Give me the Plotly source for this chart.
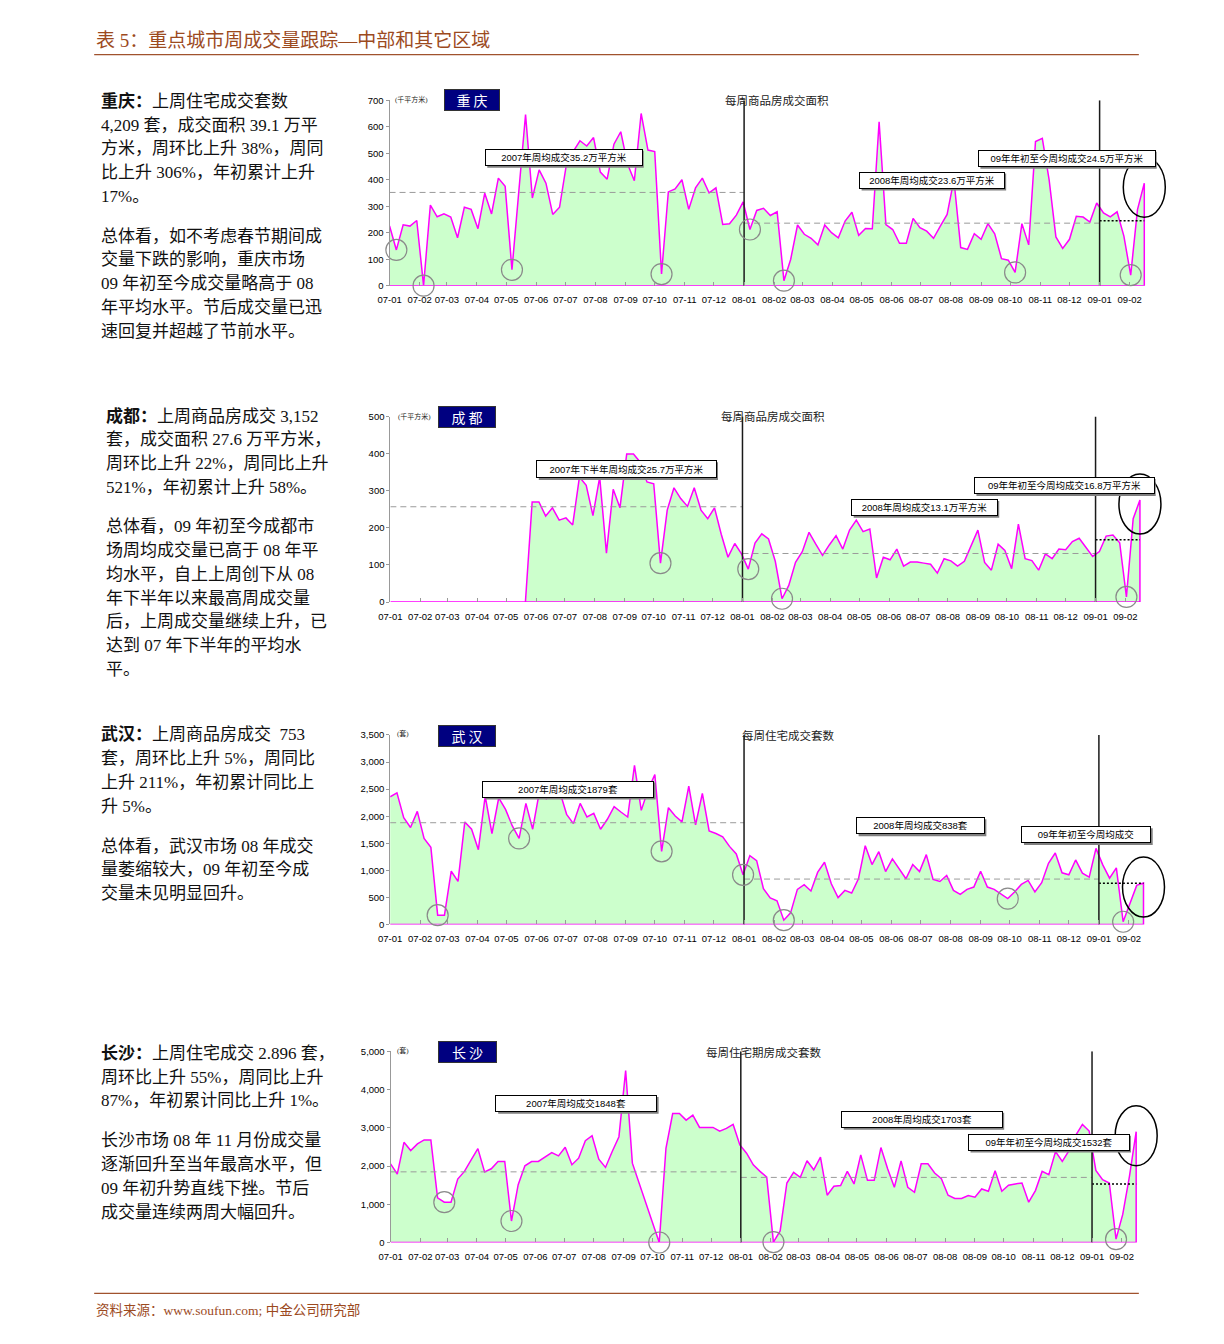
import plotly.graph_objects as go
import pandas as pd

W, H = 1224, 1344

# ---------------- data ----------------
start_date = "2007-01-01"
month_ticks = pd.date_range("2007-01-01", "2009-02-01", freq="MS")
month_labels = [d.strftime("%y-%m") for d in month_ticks]

# 重庆 weekly commodity-housing area (thousand m2)
cq_area = [225, 135, 230, 225, 246, 0, 304, 260, 271, 259,
           181, 296, 288, 215, 349, 271, 406, 375, 60, 350,
           646, 331, 437, 387, 269, 296, 456, 506, 547, 527,
           559, 429, 402, 534, 581, 459, 396, 650, 512, 506,
           44, 354, 365, 400, 288, 369, 406, 350, 369, 231,
           234, 266, 316, 212, 284, 292, 265, 279, 19, 100,
           229, 194, 179, 154, 229, 200, 181, 244, 277, 190,
           216, 215, 619, 231, 212, 160, 160, 254, 219, 206,
           179, 225, 269, 400, 144, 137, 196, 175, 234, 196,
           102, 96, 50, 234, 154, 544, 556, 400, 184, 141,
           175, 262, 259, 240, 312, 275, 260, 279, 187, 40,
           287, 387]

# 成都 weekly commodity-housing area (thousand m2)
cd_area = [0] * 21 + [
    270, 270, 232, 254, 221, 227, 208, 337, 315, 233,
    337, 132, 304, 254, 399, 399, 377, 324, 319, 105,
    248, 308, 279, 258, 308, 248, 225, 254, 183, 121,
    158, 130, 89, 159, 184,
    170, 110, 9, 45, 107, 136, 188, 156, 126, 154,
    179, 143, 194, 221, 190, 197, 65, 121, 114, 143,
    97, 108, 108, 105, 102, 78, 117, 111, 97, 110,
    150, 194, 107, 86, 156, 139, 90, 210, 117, 112,
    86, 130, 117, 143, 141, 163, 172, 148, 123, 136,
    178, 181, 160, 14, 225, 275]

# 武汉 weekly residential units
wh_units = [2358, 2431, 1973, 1790, 2089, 1588, 1423, 171, 171, 983,
            794, 1894, 1759, 1381, 2370, 1680, 2340, 2126, 1820, 1588,
            2236, 1759, 2460, 2321, 2400, 2450, 2034, 1863, 2236, 1985,
            2052, 1759, 1943, 2175, 2077, 1985, 2938, 2107, 2490, 2767,
            1350, 2156, 2003, 1894, 2553, 1839, 2419, 1729, 1680, 1619,
            1442, 1301, 916, 1271, 1179, 660, 489, 435,
            79, 214, 648, 733, 617, 965, 1148, 751, 495, 629,
            580, 843, 1454, 1106, 1344, 977, 1210, 1026, 843, 1106,
            977, 1289, 831, 794, 904, 629, 556, 648, 691, 983,
            691, 648, 568, 476, 599, 739, 812, 599, 770, 1130,
            1320, 953, 916, 1191, 947, 874, 1405, 1100, 855, 1045,
            49, 400, 721, 764]

# 长沙 weekly residential pre-sale units (None = no data, line connects)
cs_units = [2059, 1791, 2621, 2405, 2578, 2682, 2682, 1168, 1055, 1055,
            1661, 1860, 2163, 2457, 1843, 1929, 2119, 2119, 562, 1514,
            2007, 2119, 2119, 2232, 2353, 2266, 2491, 2033, 2206, 2664,
            2794, 2180, 1964, 2379, 2768, 4498, 2076, None, None, None,
            0, 2465, 3374, 3374, 3201, 3330, 3010, 3010, 3010, 2915,
            2985, 3088, 2552, 2336, 2033, 1860, 1710,
            10, 303, 1557, 1834, 1704, 2137, 1903, 2232, 1237, 1471,
            1488, 1860, 1531, 2292, 1626, 1626, 2483, 1929, 1445, 2137,
            1445, 1315, 2059, 2059, 1817, 1670, 1237, 1151, 1151, 1228,
            1185, 1401, 1341, 1877, 1341, 1497, 1531, 1557, 1055, 1358,
            1860, 1773, 2379, 2119, 2400, 2800, 3088, 2915, 1886, 1644,
            1557, 87, 735, 1730, 2898]

series = [cq_area, cd_area, wh_units, cs_units]
cities = ["重 庆", "成 都", "武 汉", "长 沙"]
chart_titles = ["每周商品房成交面积", "每周商品房成交面积", "每周住宅成交套数", "每周住宅期房成交套数"]
unit_labels = ["(千平方米)", "(千平方米)", "(套)", "(套)"]
avg_2007 = [352, 257, 1879, 1848]
avg_2008 = [236, 131, 838, 1703]
avg_2009 = [245, 168, 760, 1532]
y_max = [700, 500, 3500, 5000]
y_step = [100, 100, 500, 1000]
label_2007 = ["2007年周均成交35.2万平方米", "2007年下半年周均成交25.7万平方米",
              "2007年周均成交1879套", "2007年周均成交1848套"]
label_2008 = ["2008年周均成交23.6万平方米", "2008年周均成交13.1万平方米",
              "2008年周均成交838套", "2008年周均成交1703套"]
label_2009 = ["09年年初至今周均成交24.5万平方米", "09年年初至今周均成交16.8万平方米",
              "09年年初至今周均成交", "09年年初至今周均成交1532套"]
circle_idx = [[1, 5, 18, 40, 53, 58, 92, 109],
              [40, 53, 58, 109],
              [7, 19, 40, 52, 58, 91, 108],
              [8, 18, 40, 57, 108]]

left_texts = [
    ["<b>重庆：</b>上周住宅成交套数", "4,209 套，成交面积 39.1 万平", "方米，周环比上升 38%，周同",
     "比上升 306%，年初累计上升", "17%。",
     "总体看，如不考虑春节期间成", "交量下跌的影响，重庆市场", "09 年初至今成交量略高于 08",
     "年平均水平。节后成交量已迅", "速回复并超越了节前水平。"],
    ["<b>成都：</b>上周商品房成交 3,152", "套，成交面积 27.6 万平方米，", "周环比上升 22%，周同比上升",
     "521%，年初累计上升 58%。",
     "总体看，09 年初至今成都市", "场周均成交量已高于 08 年平", "均水平，自上上周创下从 08",
     "年下半年以来最高周成交量", "后，上周成交量继续上升，已", "达到 07 年下半年的平均水", "平。"],
    ["<b>武汉：</b>上周商品房成交  753", "套，周环比上升 5%，周同比", "上升 211%，年初累计同比上",
     "升 5%。",
     "总体看，武汉市场 08 年成交", "量萎缩较大，09 年初至今成", "交量未见明显回升。"],
    ["<b>长沙：</b>上周住宅成交 2.896 套，", "周环比上升 55%，周同比上升", "87%，年初累计同比上升 1%。",
     "长沙市场 08 年 11 月份成交量", "逐渐回升至当年最高水平，但", "09 年初升势直线下挫。节后",
     "成交量连续两周大幅回升。"],
]

title_text = "表 5：重点城市周成交量跟踪—中部和其它区域"
source_text = "资料来源：www.soufun.com; 中金公司研究部"

# ---------------- layout geometry (pixels) ----------------
geom = [dict(x0=381.3, x1=1143.5, yb=282, yt=95),
        dict(x0=382.1, x1=1139.1, yb=601, yt=414),
        dict(x0=381.9, x1=1142.7, yb=926, yt=735),
        dict(x0=382.3, x1=1135.3, yb=1246.7, yt=1054)]
EXTRA_DAYS = 35  # empty room right of the last week so the end ellipse is not clipped
left_pos = [(88, [96, 120, 144, 168, 192, 232, 256, 280, 304, 328]),
            (93, [413, 437, 461, 485, 525, 549, 573, 597, 621, 645, 669]),
            (88, [735, 759, 783, 807, 847, 871, 895]),
            (88, [1056, 1080, 1104, 1144, 1168, 1192, 1216])]
city_box = [(437, 84, 56, 22), (431, 403, 58, 22), (430, 725, 58, 22), (431, 1044, 59, 22)]
title_pos = [(718, 95), (714, 414), (735, 736), (699, 1055)]
unit_pos = [(385, 94), (388, 414), (387, 734), (387, 1053)]
box07 = [(478, 144, 158, 17), (530, 458, 181, 18), (476, 781, 172, 17), (489, 1098, 162, 17)]
box08 = [(856, 167, 146, 17), (848, 497, 147, 17), (853, 818, 129, 17), (838, 1114, 162, 17)]
box09 = [(976, 145, 178, 17), (972, 475, 181, 17), (1020, 827, 130, 17), (966, 1137, 162, 17)]

SANS = "Liberation Sans, Noto Sans CJK SC"
CJK = "Liberation Serif, Noto Sans CJK SC"
BROWN = "#9C4A1E"


def px(x):
    return x / W


def py(y):
    return 1 - y / H


fig = go.Figure()
shapes = []
annotations = []
layout_axes = {}

d2008 = "2008-01-01"
d2009 = "2009-01-01"

for k in range(4):
    vals = series[k]
    dates = pd.date_range(start_date, periods=len(vals), freq="7D")
    xs = [d for d, v in zip(dates, vals) if v is not None]
    ys = [v for v in vals if v is not None]
    xn = "x" if k == 0 else f"x{k + 1}"
    yn = "y" if k == 0 else f"y{k + 1}"
    g = geom[k]
    span_days = (dates[-1] - dates[0]).days
    ppd = (g["x1"] - g["x0"]) / span_days
    x_end = dates[-1] + pd.Timedelta(days=EXTRA_DAYS)

    # area polygon
    fig.add_trace(go.Scatter(
        x=xs + [xs[-1], xs[0]], y=ys + [0, 0], xaxis=xn, yaxis=yn,
        mode="lines", fill="toself", fillcolor="#CCFFCC",
        line=dict(color="#FF00FF", width=1.5), hoverinfo="skip"))
    # averages
    fig.add_trace(go.Scatter(x=[dates[0], d2008], y=[avg_2007[k]] * 2, xaxis=xn, yaxis=yn,
                             mode="lines", line=dict(color="#9a9a9a", width=1, dash="6px,4px")))
    fig.add_trace(go.Scatter(x=[d2008, d2009], y=[avg_2008[k]] * 2, xaxis=xn, yaxis=yn,
                             mode="lines", line=dict(color="#9a9a9a", width=1, dash="6px,4px")))
    fig.add_trace(go.Scatter(x=[d2009, dates[-1]], y=[avg_2009[k]] * 2, xaxis=xn, yaxis=yn,
                             mode="lines", line=dict(color="#000000", width=1.5, dash="2px,2px")))
    # year separators
    for d in (d2008, d2009):
        fig.add_trace(go.Scatter(x=[d, d], y=[0, y_max[k]], xaxis=xn, yaxis=yn,
                                 mode="lines", line=dict(color="#1a1a1a", width=1.5)))
    # highlight circles on notable weeks
    fig.add_trace(go.Scatter(
        x=[dates[i] for i in circle_idx[k]], y=[vals[i] for i in circle_idx[k]],
        xaxis=xn, yaxis=yn, mode="markers", cliponaxis=False,
        marker=dict(symbol="circle-open", size=21, color="#8a8a8a",
                    line=dict(width=1.2, color="#8a8a8a")), hoverinfo="skip"))

    layout_axes["xaxis" if k == 0 else f"xaxis{k + 1}"] = dict(
        type="date", domain=[px(g["x0"]), px(g["x1"] + EXTRA_DAYS * ppd)], anchor=yn,
        range=[dates[0], x_end],
        tickvals=[d.strftime("%Y-%m-%d") for d in month_ticks], ticktext=month_labels,
        tickfont=dict(family=SANS, size=9.5, color="#000"),
        ticks="inside", ticklen=4, tickcolor="#999", showgrid=False, showline=False,
        zeroline=False, ticklabelstandoff=7, fixedrange=True)
    layout_axes["yaxis" if k == 0 else f"yaxis{k + 1}"] = dict(
        domain=[py(g["yb"]), py(g["yt"])], anchor=xn, range=[0, y_max[k]],
        dtick=y_step[k], tickformat=",d",
        tickfont=dict(family=SANS, size=9.5, color="#000"),
        ticks="outside", ticklen=3, tickcolor="#999", showline=True, linecolor="#999",
        linewidth=1, showgrid=False, zeroline=False, fixedrange=True)

    # ellipse around the latest weeks
    shapes.append(dict(type="circle", xref=xn, yref=yn, xsizemode="pixel", ysizemode="pixel",
                       xanchor=dates[-1], yanchor=vals[-1], x0=-21, x1=21, y0=-34, y1=26,
                       line=dict(color="#000", width=1.5)))

    # city box
    L, T, w, h = city_box[k]
    annotations.append(dict(xref="paper", yref="paper", x=px(L + w / 2), y=py(T + h / 2),
                            xanchor="center", yanchor="middle", text=cities[k], showarrow=False,
                            bgcolor="#000080", bordercolor="#333", borderwidth=1, borderpad=0,
                            width=w - 2, height=h - 2,
                            font=dict(family="Noto Sans CJK SC", size=14, color="#fff")))
    # chart title & unit
    tx, ty = title_pos[k]
    annotations.append(dict(xref="paper", yref="paper", x=px(tx), y=py(ty), xanchor="left",
                            yanchor="middle", text=chart_titles[k], showarrow=False,
                            font=dict(family=CJK, size=11.5, color="#222")))
    ux, uy = unit_pos[k]
    annotations.append(dict(xref="paper", yref="paper", x=px(ux), y=py(uy), xanchor="left",
                            yanchor="middle", text=unit_labels[k], showarrow=False,
                            font=dict(family=CJK, size=7, color="#222")))
    # average label boxes
    for (L, T, w, h), txt in ((box07[k], label_2007[k]), (box08[k], label_2008[k]),
                              (box09[k], label_2009[k])):
        shapes.append(dict(type="rect", xref="paper", yref="paper", x0=px(L + 2), x1=px(L + w + 2),
                           y0=py(T + h + 2), y1=py(T + 2), fillcolor="#7f7f7f", line=dict(width=0)))
        annotations.append(dict(xref="paper", yref="paper", x=px(L + w / 2), y=py(T + h / 2),
                                xanchor="center", yanchor="middle", text=txt, showarrow=False,
                                bgcolor="#fff", bordercolor="#000", borderwidth=1, borderpad=0,
                                width=w - 2, height=h - 2,
                                font=dict(family=SANS, size=9.5, color="#000")))
    # left commentary
    lx, lys = left_pos[k]
    for line, yy in zip(left_texts[k], lys):
        annotations.append(dict(xref="paper", yref="paper", x=px(lx), y=py(yy), xanchor="left",
                                yanchor="middle", text=line, showarrow=False,
                                font=dict(family=CJK, size=17, color="#111")))

# header / footer
annotations.append(dict(xref="paper", yref="paper", x=px(83), y=py(35), xanchor="left",
                        yanchor="middle", text=title_text, showarrow=False,
                        font=dict(family=CJK, size=19, color=BROWN)))
annotations.append(dict(xref="paper", yref="paper", x=px(83), y=py(1315), xanchor="left",
                        yanchor="middle", text=source_text, showarrow=False,
                        font=dict(family=CJK, size=13.5, color=BROWN)))
for yy in (49, 1298):
    shapes.append(dict(type="line", xref="paper", yref="paper", x0=px(83), x1=px(1138),
                       y0=py(yy), y1=py(yy), line=dict(color="#A0522D", width=1.3)))

fig.update_layout(width=W, height=H, margin=dict(l=0, r=0, t=0, b=0),
                  paper_bgcolor="#fff", plot_bgcolor="#fff", showlegend=False,
                  shapes=shapes, annotations=annotations, **layout_axes)

fig.write_html("out.html")
